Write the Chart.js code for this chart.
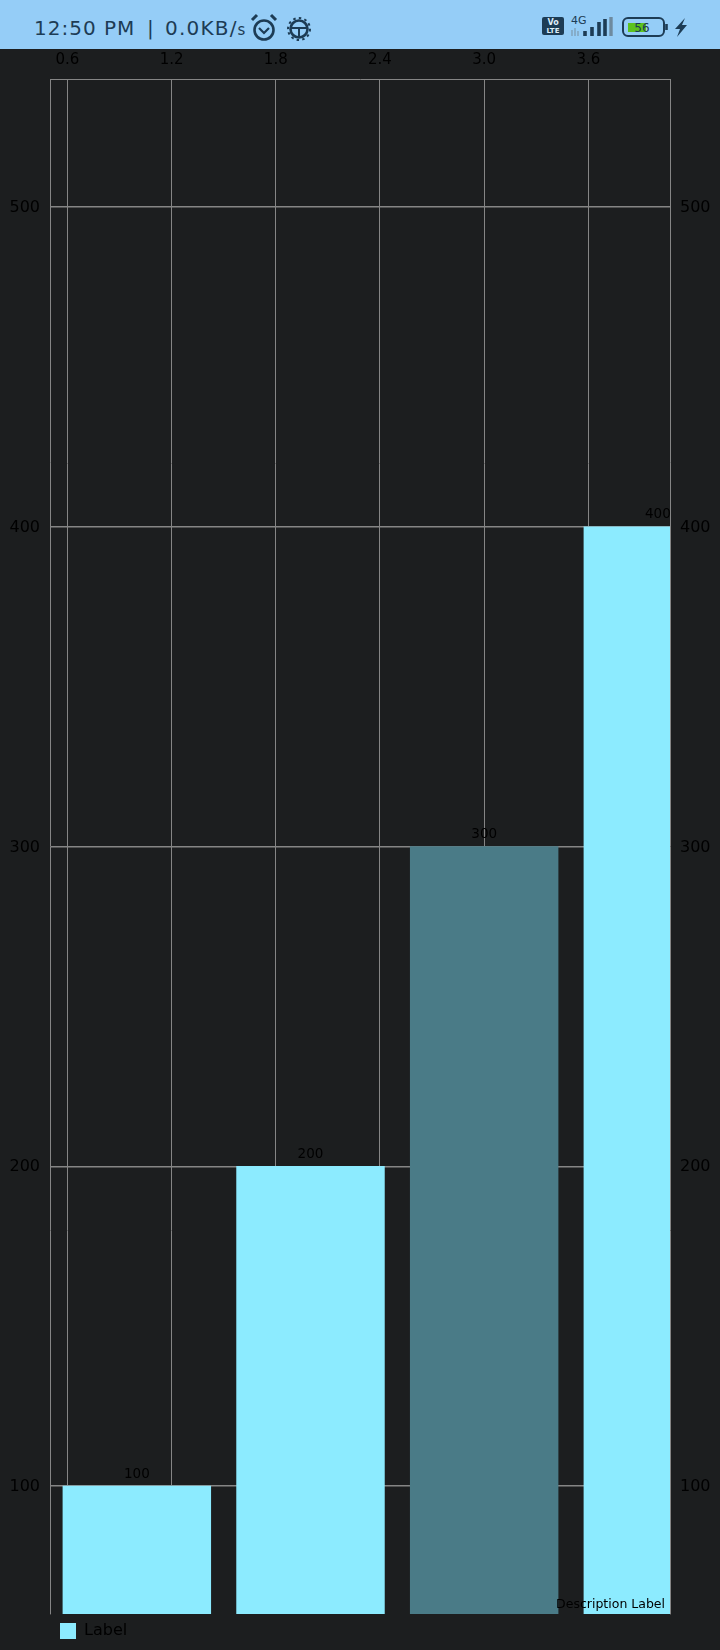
<!DOCTYPE html>
<html>
<head>
<meta charset="utf-8">
<title>Bar chart</title>
<script src="https://cdn.jsdelivr.net/npm/chart.js@4"></script>
<style>
    html, body { margin: 0; padding: 0; background: #1c1e1f; }
    #page { position: relative; width: 720px; height: 1650px; overflow: hidden; }
    #chart { position: absolute; left: 0; top: 0; }
    #status { position: absolute; left: 0; top: 0; width: 720px; height: 49px; background: #95cdf7; color: #1d3c55; font-family: "DejaVu Sans", sans-serif; }
    #status span { position: absolute; white-space: nowrap; }
    #status svg { position: absolute; left: 0; top: 0; }
</style>
</head>
<body>
<div id="page">
    <canvas id="chart" width="720" height="1650"></canvas>
    <div id="status">
        <span style="left:34px; top:16px; font-size:20px; letter-spacing:1px;">12:50 PM</span>
        <span style="left:147px; top:16px; font-size:20px;">|</span>
        <span style="left:165px; top:16px; font-size:20px; letter-spacing:1.2px;">0.0KB/<span style="position:static; font-size:15px;">s</span></span>
        <svg width="720" height="49" fill="none" stroke="#1d3c55">
            <!-- alarm -->
            <circle cx="264" cy="30" r="9.5" stroke-width="2.6"/>
            <path d="M259 28l5 5 5-5" stroke-width="2.2"/>
            <path d="M252 20l5-5M276 20l-5-5" stroke-width="3"/>
            <!-- bug -->
            <circle cx="299" cy="29" r="8.5" stroke-width="2.6"/>
            <path d="M290 28h18M299 28v9" stroke-width="2"/>
            <circle cx="299" cy="29" r="11" stroke-width="2" stroke-dasharray="2.5 3.2"/>
            <!-- volte -->
            <rect x="542" y="17" width="22" height="18" rx="2" fill="#1d3c55" stroke="none"/>
            <text x="553" y="25" font-size="8" font-weight="bold" text-anchor="middle" fill="#dfeefa" stroke="none" font-family="DejaVu Sans">Vo</text>
            <text x="553" y="33" font-size="7" font-weight="bold" text-anchor="middle" fill="#dfeefa" stroke="none" font-family="DejaVu Sans">LTE</text>
            <!-- signal -->
            <text x="571" y="24" font-size="11" fill="#1d3c55" stroke="none" font-family="DejaVu Sans">4G</text>
            <path d="M572 36v-6M575 36v-8M578 36v-5" stroke="#7d99ad" stroke-width="1.2"/>
            <path d="M585 36v-5M592 36v-9M599 36v-14M605 36v-17" stroke-width="3.6"/>
            <path d="M611 36v-19" stroke="#6d8a9f" stroke-width="3.4"/>
            <!-- battery -->
            <rect x="623" y="18" width="41" height="18" rx="5" stroke-width="2"/>
            <rect x="628" y="23" width="18" height="9" fill="#5cc21f" stroke="none"/>
            <text x="642" y="32" font-size="12" text-anchor="middle" fill="#1d3c55" stroke="none" font-family="DejaVu Sans">56</text>
            <path d="M666.5 24v6" stroke-width="2.6"/>
            <path d="M685 18l-10 11h5l-3 8 10-12h-5z" fill="#1d3c55" stroke="none"/>
        </svg>
    </div>
</div>

<script>
/* ------------------------------- Data -------------------------------*/

const xValues = [1, 2, 3, 4];
const barValues = [100, 200, 300, 400];
const xTicks = [0.6, 1.2, 1.8, 2.4, 3.0, 3.6];
const yTicks = [100, 200, 300, 400, 500];
const seriesLabel = "Label";
const descriptionLabel = "Description Label";
const highlightedIndex = 2;                         // третій стовпчик підсвічений

/* ------------------------------- Styles -------------------------------*/

const barColor = "#8cebff";
const highlightColor = "#4a7b87";
const gridColor = "#858585";
const textColor = "#000000";
const fontFamily = "'DejaVu Sans', sans-serif";

/* ------------------------------- Plugins -------------------------------*/

const barLabels = {
    id: "barLabels",
    afterDatasetsDraw(chart) {
        const ctx = chart.ctx;
        const meta = chart.getDatasetMeta(0);
        ctx.save();
        ctx.fillStyle = textColor;
        ctx.font = "13.5px " + fontFamily;
        ctx.textAlign = "center";
        ctx.textBaseline = "middle";
        meta.data.forEach((bar, i) => {
            ctx.fillText(barValues[i], bar.x, bar.y - 12);
        });
        ctx.textAlign = "right";
        ctx.font = "12.5px " + fontFamily;
        ctx.fillText(descriptionLabel, chart.chartArea.right - 5, chart.chartArea.bottom - 9);
        ctx.restore();
    }
};

const legendPlace = {
    id: "legendPlace",
    afterLayout(chart) {                            // легенда стоїть під графіком, зліва
        chart.legend.left = 50;
        chart.legend.top = 1613;
    }
};

/* ------------------------------- Chart -------------------------------*/

function fixedTicks(values) {
    return function (axis) {
        axis.ticks = values.map(v => ({ value: v }));
    };
}

function yAxis(position, width) {
    return {
        type: "linear",
        position: position,
        min: 60,
        max: 540,
        afterBuildTicks: fixedTicks(yTicks),
        afterFit(axis) { axis.width = width; },
        border: { display: true, color: gridColor, width: 1 },
        ticks: {
            color: textColor,
            font: { family: fontFamily, size: 16 },
            padding: 10,
            labelOffset: 1
        },
        grid: {
            display: position == "left",
            color: gridColor,
            lineWidth: 1.4,
            drawTicks: false
        }
    };
}

new Chart(document.getElementById("chart").getContext("2d"), {
    type: "bar",
    data: {
        datasets: [{
            label: seriesLabel,
            data: xValues.map((x, i) => ({ x: x, y: barValues[i] })),
            backgroundColor: ctx => ctx.dataIndex === highlightedIndex ? highlightColor : barColor,
            borderWidth: 0,
            barThickness: 147.8,
            yAxisID: "y"
        }]
    },
    options: {
        responsive: false,
        animation: false,
        layout: { padding: 0 },
        scales: {
            x: {
                type: "linear",
                position: "top",
                offset: false,
                min: 0.5,
                max: 4.07,
                afterBuildTicks: fixedTicks(xTicks),
                afterFit(axis) { axis.height = 79; },
                border: { display: true, color: gridColor, width: 1 },
                ticks: {
                    color: textColor,
                    font: { family: fontFamily, size: 15 },
                    padding: 10,
                    maxRotation: 0,
                    autoSkip: false,
                    callback: v => v.toFixed(1)
                },
                grid: { offset: false, color: gridColor, lineWidth: 1, drawTicks: false }
            },
            y: yAxis("left", 50),
            y2: yAxis("right", 50)
        },
        plugins: {
            legend: {
                position: "bottom",
                align: "start",
                labels: {
                    color: textColor,
                    font: { family: fontFamily, size: 16 },
                    boxWidth: 16,
                    boxHeight: 16,
                    padding: 10
                }
            },
            tooltip: { enabled: false }
        }
    },
    plugins: [barLabels, legendPlace]
});
</script>
</body>
</html>
